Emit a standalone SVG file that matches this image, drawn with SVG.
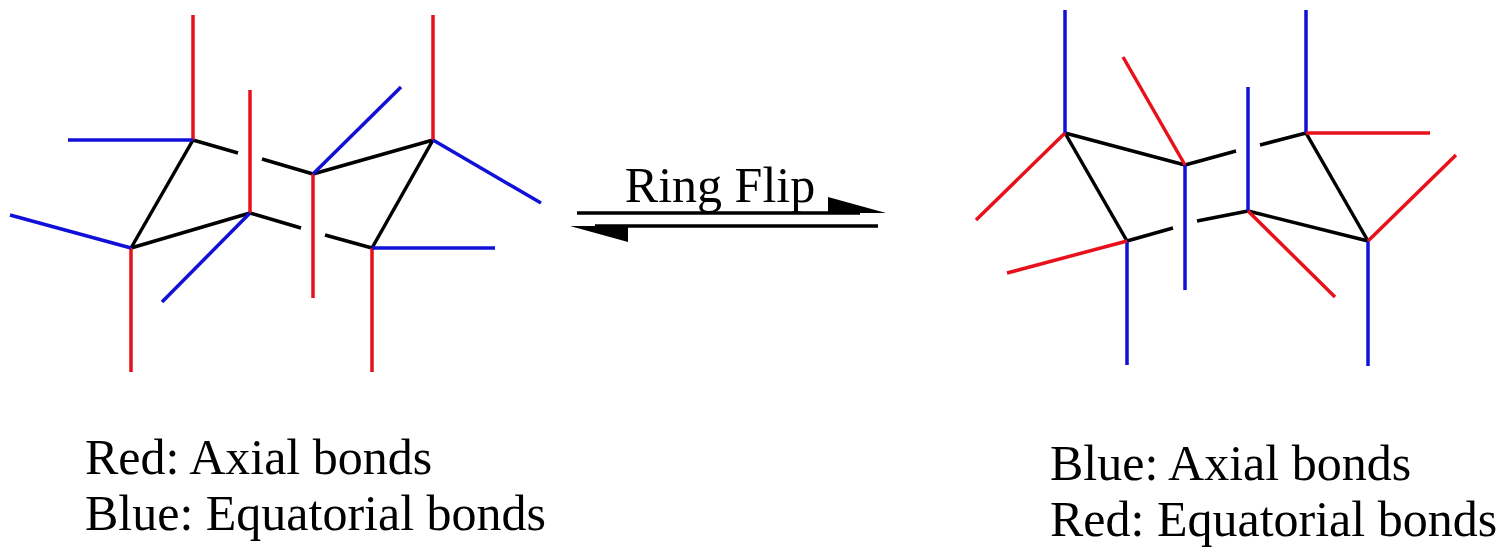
<svg xmlns="http://www.w3.org/2000/svg" width="1507" height="559" viewBox="0 0 1507 559">
<style>
line{stroke-width:3.5;stroke-linecap:butt}
.k{stroke:#000}.r{stroke:#e8101a}.b{stroke:#1010d8}
text{font-family:"Liberation Serif",serif;font-size:50px;fill:#000}
</style>
<rect width="1507" height="559" fill="#fff"/>
<g id="left-chair">
<line class="k" x1="193" y1="140" x2="131" y2="248"/>
<line class="k" x1="193" y1="140" x2="238" y2="153"/>
<line class="k" x1="262" y1="159" x2="313" y2="174"/>
<line class="k" x1="131" y1="248" x2="250" y2="213"/>
<line class="k" x1="250" y1="213" x2="301" y2="228"/>
<line class="k" x1="325" y1="235" x2="372" y2="248"/>
<line class="k" x1="313" y1="174" x2="433" y2="140"/>
<line class="k" x1="433" y1="140" x2="372" y2="248"/>
<line class="r" x1="193" y1="15" x2="193" y2="140"/>
<line class="b" x1="68" y1="140" x2="193" y2="140"/>
<line class="r" x1="131" y1="248" x2="131" y2="372"/>
<line class="b" x1="10" y1="215" x2="131" y2="248"/>
<line class="r" x1="250" y1="90" x2="250" y2="213"/>
<line class="b" x1="250" y1="213" x2="162" y2="302"/>
<line class="r" x1="313" y1="174" x2="313" y2="298"/>
<line class="b" x1="313" y1="174" x2="401" y2="87"/>
<line class="r" x1="372" y1="248" x2="372" y2="372"/>
<line class="b" x1="372" y1="248" x2="495" y2="248"/>
<line class="r" x1="433" y1="15" x2="433" y2="140"/>
<line class="b" x1="433" y1="140" x2="541" y2="203"/>
</g>
<g id="right-chair">
<line class="k" x1="1065" y1="133" x2="1127" y2="241"/>
<line class="k" x1="1065" y1="133" x2="1185" y2="165"/>
<line class="k" x1="1185" y1="165" x2="1236" y2="151"/>
<line class="k" x1="1260" y1="145" x2="1306" y2="133"/>
<line class="k" x1="1127" y1="241" x2="1173" y2="228"/>
<line class="k" x1="1197" y1="221" x2="1248" y2="211"/>
<line class="k" x1="1248" y1="211" x2="1368" y2="241"/>
<line class="k" x1="1306" y1="133" x2="1368" y2="241"/>
<line class="b" x1="1065" y1="10" x2="1065" y2="133"/>
<line class="r" x1="1065" y1="133" x2="976" y2="220"/>
<line class="b" x1="1127" y1="241" x2="1127" y2="365"/>
<line class="r" x1="1007" y1="273" x2="1127" y2="241"/>
<line class="b" x1="1185" y1="165" x2="1185" y2="290"/>
<line class="r" x1="1185" y1="165" x2="1123" y2="57"/>
<line class="b" x1="1248" y1="87" x2="1248" y2="211"/>
<line class="r" x1="1248" y1="211" x2="1335" y2="297"/>
<line class="b" x1="1306" y1="10" x2="1306" y2="133"/>
<line class="r" x1="1306" y1="133" x2="1430" y2="133"/>
<line class="b" x1="1368" y1="241" x2="1368" y2="366"/>
<line class="r" x1="1368" y1="241" x2="1456" y2="155"/>
</g>
<g id="connectors">
<line class="k" x1="577" y1="213" x2="860" y2="213"/>
<polygon points="828,197 886,213 828,213" fill="#000"/>
<line class="k" x1="595" y1="226" x2="878" y2="226"/>
<polygon points="570,226 628,242 628,226" fill="#000"/>
</g>
<g id="labels">
<text x="720" y="202" text-anchor="middle">Ring Flip</text>
<text x="85" y="474">Red: Axial bonds</text>
<text x="85" y="530">Blue: Equatorial bonds</text>
<text x="1050" y="480">Blue: Axial bonds</text>
<text x="1050" y="536">Red: Equatorial bonds</text>
</g>
</svg>
